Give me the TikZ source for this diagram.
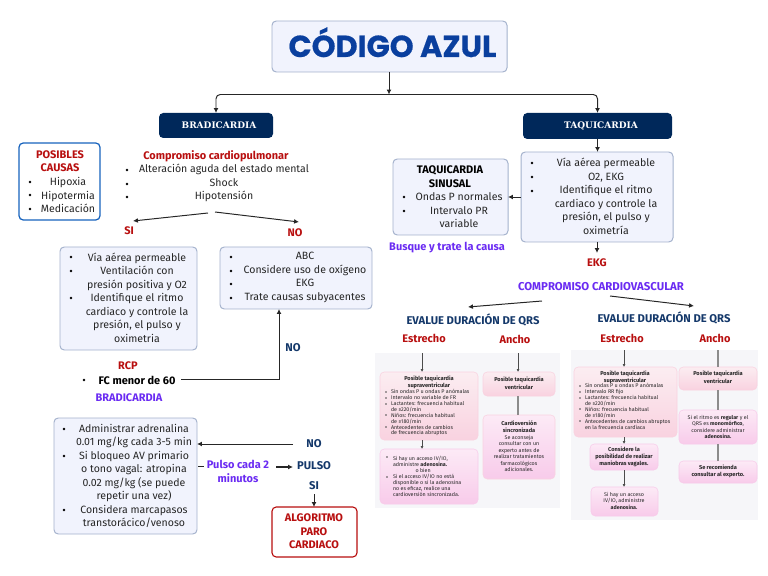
\documentclass[tikz,border=0pt]{standalone}
\usepackage{fontspec}
\setmainfont{Fira Sans}
\newfontfamily\titlefont[BoldFeatures={FakeBold=0.6}]{Poppins}
\newfontfamily\slabfont{DejaVu Serif}
\usepackage{tikz}
\usetikzlibrary{
    arrows.meta,
    fit,
    shadings
}
\definecolor{boxfill}{HTML}{F1F3FD}
\definecolor{boxline}{HTML}{A3B1CC}
\definecolor{navy}{HTML}{00285A}
\definecolor{navytxt}{HTML}{14386A}
\definecolor{titleblue}{HTML}{0A3F9E}
\definecolor{redtxt}{HTML}{B80F0F}
\definecolor{purpletxt}{HTML}{6A2BF2}
\definecolor{causaline}{HTML}{1763BD}
\definecolor{panelbg}{HTML}{F6F6F9}
\definecolor{pinktop}{HTML}{FBEDF1}
\definecolor{pinkbot}{HTML}{F9D2E0}
\definecolor{liltop}{HTML}{FCEAF6}
\definecolor{lilbot}{HTML}{F8CBEA}
\tikzset{
    every node/.style={inner sep=0pt, outer sep=0pt},
    txt/.style={align=center, text=black!85, font=\fontsize{7.5pt}{9.6pt}\selectfont},
    redlbl/.style={align=center, text=redtxt, font=\fontsize{7.8pt}{9.6pt}\selectfont\bfseries},
    purplelbl/.style={align=center, text=purpletxt, font=\fontsize{7.8pt}{9.6pt}\selectfont\bfseries},
    navylbl/.style={align=center, text=navytxt, font=\fontsize{8pt}{9.6pt}\selectfont\bfseries},
    soft/.style={draw=boxline, fill=boxfill, line width=0.7pt, rounded corners=3pt},
    dark/.style={fill=navy, rounded corners=3pt, text=white,
        font=\fontsize{6.4pt}{8pt}\selectfont\slabfont\bfseries},
    panel/.style={fill=panelbg},
    pinkbox/.style={top color=pinktop, bottom color=pinkbot, draw=pinkbot, line width=0.4pt, rounded corners=3pt},
    lilbox/.style={top color=liltop, bottom color=lilbot, draw=lilbot, line width=0.4pt, rounded corners=3pt},
    tiny/.style={align=center, text=black!85, font=\fontsize{3.8pt}{4.6pt}\selectfont},
    tinyleft/.style={align=left, anchor=west, text=black!85, font=\fontsize{3.8pt}{4.25pt}\selectfont},
    tinybold/.style={align=center, text=black!85, font=\fontsize{4pt}{5pt}\selectfont\bfseries},
    blt/.style={circle, fill=black, minimum size=2pt},
    smallblt/.style={circle, fill=black!70, minimum size=1.1pt},
    arr/.style={-{Latex[length=3.5pt,width=3.5pt]}, line width=0.7pt, draw=black!85},
    smallarr/.style={-{Latex[length=2pt,width=2pt]}, line width=0.5pt, draw=black!70},
    grayarr/.style={line width=1pt, draw=black!45},
}
\newcommand{\bullets}[3][blt]{\foreach \y in {#3} \node[#1] (#1-#2-\y) at (#2,\y) {};}
\begin{document}
\begin{tikzpicture}[x=0.025cm, y=-0.025cm]
    \useasboundingbox (0,0) rectangle (768,576);

    % top
    \node[soft, fit={(272,21) (507,72)}] (titlebox) {};
    \node[anchor=base, text=titleblue, font=\fontsize{21.6pt}{24pt}\selectfont\titlefont\bfseries] (title) at (392.5,57) {CÓDIGO AZUL};
    \node[dark, fit={(159,113) (273,138)}] (brady) {};
    \node[dark] (bradytxt) at (219,125.5) {BRADICARDIA};
    \node[dark, fit={(523,113) (672,139)}] (taqui) {};
    \node[dark] (taquitxt) at (601,125.5) {TAQUICARDIA};
    \coordinate (split) at (389,94.5);
    \draw[arr] (titlebox.south -| split) -- (split);
    \draw[arr, rounded corners=3pt] (split) -| (brady.north);
    \draw[arr, rounded corners=3pt] (split) -| (taqui.north);

    % bradicardia
    \node[draw=causaline, fill=white, line width=0.9pt, rounded corners=3pt, fit={(19,143) (100,220)}] (causas) {};
    \node[redlbl] (causastit) at (60,161) {POSIBLES\\CAUSAS};
    \node[txt] (causastxt) at (68,195) {Hipoxia\\Hipotermia\\Medicación};
    \bullets{30}{182,195,209}

    \node[redlbl] (compcard) at (216,156) {Compromiso cardiopulmonar};
    \node[txt] (comptxt) at (224,183) {Alteración aguda del estado mental\\Shock\\Hipotensión};
    \bullets{127}{170,184,197}
    \coordinate (siup) at (208,213);
    \coordinate (sidown) at (133,221);
    \coordinate (noup) at (215,212);
    \coordinate (nodown) at (299,222);
    \draw[arr] (siup) -- (sidown);
    \draw[arr] (noup) -- (nodown);
    \node[redlbl] (si) at (129,231) {SI};
    \node[redlbl] (no) at (295,233) {NO};

    \node[soft, fit={(60,247) (197,350)}] (viabox) {};
    \node[txt] (viatxt) at (137,297.5) {Vía aérea permeable\\Ventilación con\\presión positiva y O2\\Identifique el ritmo\\cardiaco y controle la\\presión, el pulso y\\oximetria};
    \bullets{71}{257,271,298}
    \node[soft, fit={(220,247) (372,309)}] (abcbox) {};
    \node[txt] (abctxt) at (305,277.5) {ABC\\Considere uso de oxígeno\\EKG\\Trate causas subyacentes};
    \bullets{231}{257,271,284,298}

    \node[redlbl] (rcp) at (128,366) {RCP};
    \node[txt, font=\fontsize{7.8pt}{9.6pt}\selectfont\bfseries, text=black] (fc) at (137,380) {FC menor de 60};
    \bullets{84}{380}
    \node[purplelbl] (bradylbl) at (129,398) {BRADICARDIA};
    \coordinate (fcend) at (181,379);
    \coordinate (fcturn) at (279,379);
    \draw[arr] (fcend) -- (fcturn) -- (abcbox.south -| fcturn);
    \node[navylbl] (nofc) at (293,348) {NO};

    \node[soft, fit={(54,418) (197,534)}] (adrbox) {};
    \node[txt] (adrtxt) at (134,476) {Administrar adrenalina\\0.01 mg/kg cada 3-5 min\\Si bloqueo AV primario\\o tono vagal: atropina\\0.02 mg/kg (se puede\\repetir una vez)\\Considera marcapasos\\transtorácico/venoso};
    \bullets{64}{429,456,510}
    \node[navylbl] (nopulso) at (314,444) {NO};
    \coordinate (nostart) at (293,444);
    \draw[arr] (nostart) -- (adrbox.east |- nostart);
    \node[purplelbl] (pulso2) at (238,471.5) {Pulso cada 2\\minutos};
    \node[navylbl] (pulso) at (314,466) {PULSO};
    \coordinate (dashl) at (198,466.5);
    \coordinate (dashr) at (204,466.5);
    \draw[line width=1pt, draw=black!85] (dashl) -- (dashr);
    \coordinate (pulsoarr) at (276,467);
    \coordinate (pulsoend) at (293,467);
    \draw[arr, line width=1pt] (pulsoarr) -- (pulsoend);
    \node[navylbl] (sipulso) at (314,486) {SI};
    \node[draw=redtxt, fill=white, line width=0.8pt, rounded corners=3pt, fit={(272,507) (357,557)}] (paro) {};
    \node[redlbl] (parotxt) at (314,531.5) {ALGORITMO\\PARO\\CARDIACO};
    \coordinate (sistart) at (314,494);
    \draw[arr] (sistart) -- (sistart |- paro.north);

    % taquicardia
    \node[soft, fit={(521,152) (673,242)}] (taqbox) {};
    \node[txt] (taqtxt) at (606,196.5) {Vía aérea permeable\\O2, EKG\\Identifique el ritmo\\cardiaco y controle la\\presión, el pulso y\\oximetría};
    \bullets{532}{163,177,191}
    \draw[arr] (taqui.south) -- (taqbox.north -| taqui.south);
    \node[soft, fit={(393,159) (508,235)}] (sinbox) {};
    \node[txt, font=\fontsize{7.8pt}{9.6pt}\selectfont\bfseries, text=black] (sintit) at (450,176.5) {TAQUICARDIA\\SINUSAL};
    \node[txt] (sintxt) at (459,210.5) {Ondas P normales\\Intervalo PR\\variable};
    \bullets{404}{197,211}
    \coordinate (sinarr) at (521,197);
    \draw[arr] (sinarr) -- (sinbox.east |- sinarr);
    \node[purplelbl] (busque) at (447,248) {Busque y trate la causa};
    \node[redlbl] (ekg) at (597,263) {EKG};
    \draw[arr] (taqbox.south -| ekg) -- ++(0,11);
    \node[purplelbl, font=\fontsize{8.1pt}{9.6pt}\selectfont\bfseries] (cardio) at (601,287) {COMPROMISO CARDIOVASCULAR};
    \coordinate (cleft) at (542,301);
    \coordinate (cleftend) at (468,307);
    \coordinate (cright) at (610,296);
    \coordinate (crightend) at (694,306);
    \draw[arr] (cleft) -- (cleftend);
    \draw[arr] (cright) -- (crightend);
    \node[navylbl] (qrsl) at (473,320) {EVALUE DURACIÓN DE QRS};
    \node[navylbl] (qrsr) at (664,318) {EVALUE DURACIÓN DE QRS};
    \node[redlbl] (estl) at (424,338) {Estrecho};
    \node[redlbl] (anl) at (515,339) {Ancho};
    \node[redlbl] (estr) at (622,338) {Estrecho};
    \node[redlbl] (anr) at (715,338) {Ancho};

    % panel izquierdo
    \node[panel, fit={(375,353) (560,508)}] (panell) {};
    \node[pinkbox, fit={(380,372) (478,440)}] (la) {};
    \node[tinybold] (lat) at (429,382.5) {Posible taquicardia\\supraventricular};
    \node[tinyleft] (lal) at (391,412.5) {Sin ondas P u ondas P anómalas\\Intervalo no variable de FR\\Lactantes: frecuencia habitual\\de ≥220/min\\Niños: frecuencia habitual\\de ≥180/min\\Antecedentes de cambios\\de frecuencia abruptos};
    \bullets[smallblt]{386}{392,398,404,415,427}
    \node[pinkbox, fit={(483,372) (555,396)}] (lb) {};
    \node[tinybold, font=\fontsize{4pt}{6pt}\selectfont\bfseries] (lbt) at (519,383) {Posible taquicardia\\ventricular};
    \node[lilbox, draw=pinkbot, fit={(483,415) (555,479)}] (lc) {};
    \node[tinybold] (lct) at (519,426.5) {Cardioversión\\sincronizada};
    \node[tiny] (lcl) at (519,453.5) {Se aconseja\\consultar con un\\experto antes de\\realizar tratamientos\\farmacológicos\\adicionales.};
    \node[lilbox, fit={(380,449) (478,504)}] (ld) {};
    \node[tinyleft] (ldl) at (393,476.5) {Si hay un acceso IV/IO,\\administre \textbf{adenosina.}\\\hspace*{16pt}o bien\\Si el acceso IV/IO no está\\disponible o si la adenosina\\no es eficaz, realice una\\cardioversión sincronizada.};
    \bullets[smallblt]{387}{457,477}
    \coordinate (lain) at (422,353);
    \coordinate (lbin) at (518,353);
    \draw[smallarr] (lain) -- (la.north -| lain);
    \draw[smallarr] (lbin) -- (lb.north -| lbin);
    \draw[grayarr] (lb.south -| lbin) -- (lc.north -| lbin);
    \draw[smallarr] (la.south -| lain) -- (ld.north -| lain);

    % panel derecho
    \node[panel, fit={(571,350) (758,520)}] (panelr) {};
    \node[pinkbox, fit={(574,367) (677,437)}] (ra) {};
    \node[tinybold] (rat) at (625,377) {Posible taquicardia\\supraventricular};
    \node[tinyleft] (ral) at (585,406.5) {Sin ondas P u ondas P anómalas\\Intervalo RR fijo\\Lactantes: frecuencia habitual\\de ≥220/min\\Niños: frecuencia habitual\\de ≥180/min\\Antecedentes de cambios abruptos\\en la frecuencia cardíaca};
    \bullets[smallblt]{580}{386,392,398,409,421}
    \node[pinkbox, fit={(679,367) (757,390)}] (rb) {};
    \node[tinybold, font=\fontsize{4pt}{6pt}\selectfont\bfseries] (rbt) at (718,377.5) {Posible taquicardia\\ventricular};
    \node[lilbox, fit={(679,410) (757,444)}] (rc) {};
    \node[tiny] (rct) at (718,427) {Si el ritmo es \textbf{regular} y el\\QRS es \textbf{monomórfico},\\considere administrar\\\textbf{adenosina.}};
    \node[lilbox, fit={(679,461) (757,483)}] (rd) {};
    \node[tinybold] (rdt) at (718,471.5) {Se recomienda\\consultar al experto.};
    \node[lilbox, fit={(590,444) (658,470)}] (re) {};
    \node[tinybold] (ret) at (624,457) {Considere la\\posibilidad de realizar\\maniobras vagales.};
    \node[lilbox, fit={(591,487) (658,516)}] (rf) {};
    \node[tiny] (rft) at (624,500.5) {Si hay un acceso\\IV/IO, administre\\\textbf{adenosina.}};
    \coordinate (rain) at (624,350);
    \coordinate (rbin) at (718,350);
    \draw[smallarr] (rain) -- (ra.north -| rain);
    \draw[grayarr] (rbin) -- (rb.north -| rbin);
    \draw[grayarr] (rb.south -| rbin) -- (rc.north -| rbin);
    \draw[grayarr] (rc.south -| rbin) -- (rd.north -| rbin);
    \draw[smallarr] (ra.south -| rain) -- (re.north -| rain);
    \draw[smallarr] (re.south -| rain) -- (rf.north -| rain);
\end{tikzpicture}
\end{document}
